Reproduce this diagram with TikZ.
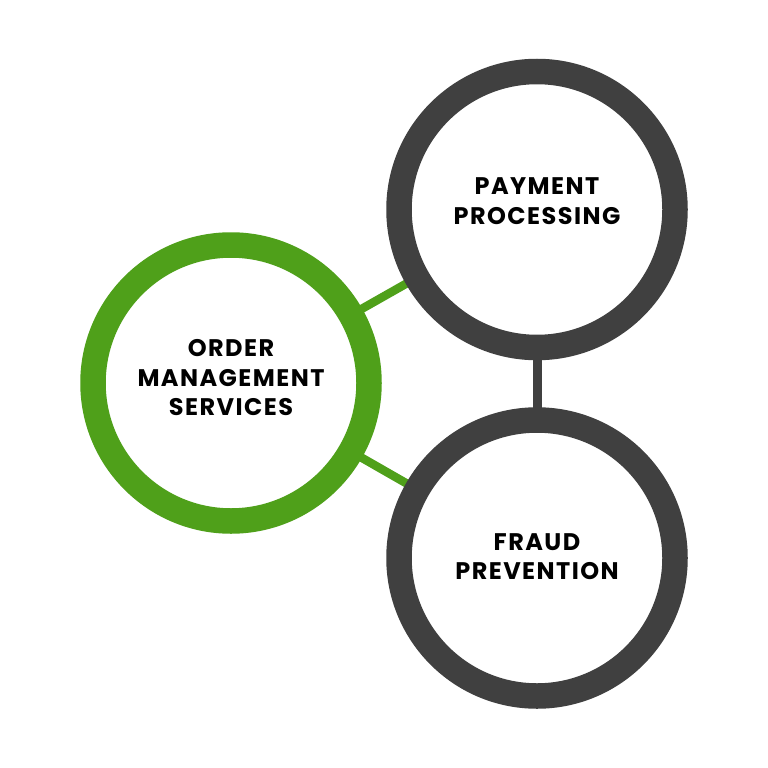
\documentclass[tikz,border=0pt]{standalone}
\usepackage{fontspec}
\usetikzlibrary{backgrounds}
\newfontfamily\labfont[LetterSpace=6]{Poppins}
\definecolor{ringgreen}{HTML}{4FA01A}
\definecolor{ringgray}{HTML}{404040}
\begin{document}
\begin{tikzpicture}[x=1pt,y=-1pt,
  ring/.style={circle, minimum size=276pt, inner sep=0pt, line width=25.5pt, fill=white, draw=#1},
  lab/.style={align=center, inner sep=0pt, font=\labfont\bfseries\fontsize{24}{29.5}\selectfont},
  gline/.style={draw=ringgreen, line width=8.5pt},
  kline/.style={draw=ringgray, line width=9pt}]
\useasboundingbox (0,0) rectangle (768,768);
\node[ring=ringgreen] (oms) at (231,383) {};
\node[ring=ringgray] (pay) at (537,209.5) {};
\node[ring=ringgray] (fraud) at (537,558) {};
\begin{pgfonlayer}{background}
\fill[white] (0,0) rectangle (768,768);
\draw[gline] (oms.center) -- (pay.center);
\draw[gline] (oms.center) -- (fraud.center);
\draw[kline] (pay.center) -- (fraud.center);
\end{pgfonlayer}
\node[lab] (omsl) at (231,378) {ORDER\\MANAGEMENT\\SERVICES};
\node[lab] (payl) at (537,201) {PAYMENT\\PROCESSING};
\node[lab] (fraudl) at (537,556.5) {FRAUD\\PREVENTION};
\end{tikzpicture}
\end{document}
